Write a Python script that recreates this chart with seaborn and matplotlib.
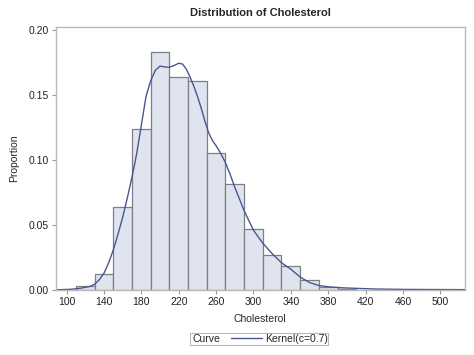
import numpy as np
import pandas as pd
import seaborn as sns
import matplotlib.pyplot as plt
from matplotlib.patches import Rectangle
from matplotlib.ticker import FormatStrFormatter

# histogram bins (width 20) and proportion per bin
bin_edges = [110, 130, 150, 170, 190, 210, 230, 250, 270, 290, 310, 330, 350, 370, 390, 410]
proportion = [0.0033, 0.012, 0.064, 0.1236, 0.1828, 0.1638, 0.1605, 0.1054, 0.0813,
              0.0469, 0.0267, 0.0182, 0.0077, 0.0020, 0.0010]

# kernel density curve
curve_x = [90, 105, 115, 125, 130, 135, 140, 145, 150, 155, 160, 165, 170, 175, 180,
           185, 190, 195, 200, 205, 210, 215, 220, 224, 228, 232, 236, 240, 244, 248,
           252, 256, 260, 265, 270, 275, 280, 290, 300, 310, 320, 330, 340, 350, 360,
           370, 380, 395, 410, 430, 460, 490, 526]
curve_y = [0.0002, 0.0006, 0.0014, 0.0028, 0.0045, 0.008, 0.013, 0.021, 0.031, 0.043,
           0.056, 0.071, 0.087, 0.105, 0.127, 0.149, 0.161, 0.169, 0.1722, 0.1716,
           0.1713, 0.1727, 0.1744, 0.1738, 0.170, 0.164, 0.157, 0.149, 0.140, 0.130,
           0.121, 0.115, 0.111, 0.105, 0.098, 0.089, 0.079, 0.061, 0.046, 0.036, 0.028,
           0.021, 0.016, 0.010, 0.0058, 0.0035, 0.0025, 0.0017, 0.0013, 0.0008, 0.0005,
           0.0004, 0.0003]

x_ticks = [100, 140, 180, 220, 260, 300, 340, 380, 420, 460, 500]
y_ticks = [0.00, 0.05, 0.10, 0.15, 0.20]

bins = pd.DataFrame({'mid': [(a + b) / 2 for a, b in zip(bin_edges[:-1], bin_edges[1:])],
                     'prop': proportion})
curve = pd.DataFrame({'x': curve_x, 'y': curve_y})

sns.set_style('white')
plt.rcParams['font.family'] = ['Liberation Sans', 'DejaVu Sans']

fig = plt.figure(figsize=(4.74, 3.55), dpi=100)
ax = fig.add_axes([0.118, 0.183, 0.862, 0.741])

sns.histplot(data=bins, x='mid', weights='prop', bins=bin_edges, stat='count',
             color='#dfe4ef', edgecolor='#7a7f88', linewidth=0.9, alpha=1, ax=ax)
sns.lineplot(data=curve, x='x', y='y', color='#4a5690', linewidth=1.0, ax=ax)

ax.set_xlim(88.5, 526)
ax.set_ylim(0, 0.2023)
ax.set_xticks(x_ticks)
ax.set_yticks(y_ticks)
ax.yaxis.set_major_formatter(FormatStrFormatter('%.2f'))
ax.tick_params(labelsize=7.5, length=3, width=0.8, color='#9a9a9a', colors='#222222', pad=2)
ax.tick_params(axis='both', which='both', bottom=True, left=True)
for s in ax.spines.values():
    s.set_color('#b8b8b8')
    s.set_linewidth(1.0)

ax.set_title('Distribution of Cholesterol', fontsize=8, fontweight='bold', pad=8)
ax.set_xlabel('Cholesterol', fontsize=7.5, labelpad=5)
ax.set_ylabel('Proportion', fontsize=7.5, labelpad=7)

# legend box along the bottom
fig.add_artist(Rectangle((0.401, 0.028), 0.291, 0.034, transform=fig.transFigure,
                         fill=False, edgecolor='#b8b8b8', linewidth=0.8))
fig.text(0.407, 0.045, 'Curve', fontsize=7.5, va='center', ha='left')
line = ax.get_lines()[0]
fig.legend([line], ['Kernel(c=0.7)'], loc='center left', bbox_to_anchor=(0.487, 0.045),
           frameon=False, fontsize=7.5, handlelength=3.0, handletextpad=0.3,
           borderpad=0, borderaxespad=0)

plt.savefig('out.png', dpi=100)
